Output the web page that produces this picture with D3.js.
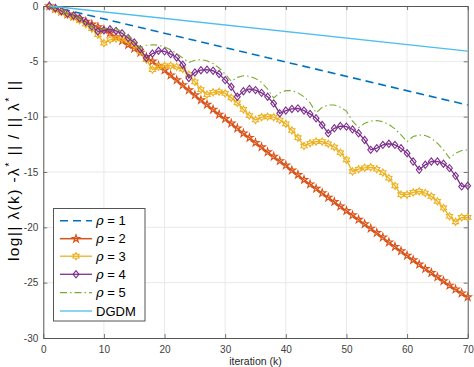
<!DOCTYPE html>
<html>
<head>
<meta charset="utf-8">
<script src="https://cdn.jsdelivr.net/npm/d3@7/dist/d3.min.js"></script>
<style>
  body { margin: 0; background: #fff; }
  svg { display: block; font-family: "Liberation Sans", Arial, sans-serif; }
</style>
</head>
<body>
<svg id="chart" width="474" height="367"></svg>
<script>
// ---------------- DATA ----------------
const iterations = d3.range(1, 71);            // k = 1 .. 70
const xTicks = [0, 10, 20, 30, 40, 50, 60, 70];
const yTicks = [0, -5, -10, -15, -20, -25, -30];

// straight lines (read at their ends)
const rho1Iter = [1, 70];
const rho1Vals = [0, -8.95];
const dgdmIter = [1, 70];
const dgdmVals = [0, -4.07];

const rho2Vals = [0,-0.25,-0.5,-0.75,-0.95,-1.15,-1.4,-1.65,-1.9,-2.15,
  -2.45,-2.8,-3.15,-3.5,-3.85,-4.2,-4.6,-5.0,-5.4,-5.8,
  -6.25,-6.7,-7.15,-7.6,-8.05,-8.5,-8.9,-9.35,-9.8,-10.2,
  -10.6,-11.05,-11.5,-11.9,-12.35,-12.75,-13.2,-13.6,-14.0,-14.4,
  -14.85,-15.25,-15.7,-16.1,-16.5,-16.9,-17.3,-17.7,-18.1,-18.5,
  -18.9,-19.3,-19.7,-20.1,-20.5,-20.9,-21.35,-21.75,-22.15,-22.55,
  -22.95,-23.35,-23.75,-24.1,-24.5,-24.85,-25.25,-25.6,-25.95,-26.3];

const rho3Vals = [0,-0.3,-0.55,-0.8,-1.0,-1.3,-1.65,-2.05,-2.6,-3.35,
  -3.05,-2.95,-2.95,-3.1,-3.5,-4.1,-4.85,-5.75,-5.5,-5.4,
  -5.4,-5.5,-5.7,-6.2,-6.85,-7.55,-8.0,-7.8,-7.75,-7.9,
  -8.3,-8.75,-9.35,-9.9,-10.3,-10.05,-10.0,-10.05,-10.3,-10.65,
  -11.25,-11.9,-12.65,-12.4,-12.25,-12.25,-12.45,-12.75,-13.25,-13.9,
  -14.95,-14.75,-14.62,-14.57,-14.75,-15.05,-15.55,-16.25,-17.05,-17.05,
  -16.85,-16.75,-16.9,-17.2,-17.65,-18.25,-19.0,-19.5,-19.1,-19.1];

const rho4Vals = [0,-0.2,-0.45,-0.7,-0.85,-1.1,-1.45,-1.85,-2.3,-2.2,
  -2.1,-2.25,-2.47,-2.9,-3.3,-3.9,-4.7,-4.3,-4.05,-4.1,
  -4.35,-4.65,-5.3,-6.5,-6.0,-5.8,-5.75,-5.85,-6.15,-6.7,
  -7.3,-8.2,-7.7,-7.5,-7.6,-7.85,-8.2,-8.8,-9.7,-9.45,
  -9.3,-9.25,-9.45,-9.75,-10.15,-10.75,-11.5,-11.05,-10.85,-10.9,
  -11.15,-11.5,-12.1,-13.0,-12.85,-12.55,-12.45,-12.55,-12.85,-13.3,
  -14.05,-14.8,-14.35,-14.05,-14.05,-14.25,-14.65,-15.35,-16.3,-16.25];

const rho5Vals = [0,-0.2,-0.45,-0.7,-0.9,-1.15,-1.5,-1.9,-2.3,-2.05,
  -1.95,-2.05,-2.3,-2.7,-3.2,-3.8,-3.55,-3.5,-3.55,-3.7,
  -3.95,-4.3,-4.7,-5.1,-4.9,-4.85,-4.95,-5.2,-5.6,-6.15,
  -6.8,-6.45,-6.3,-6.35,-6.55,-6.9,-7.5,-8.3,-7.85,-7.65,
  -7.65,-7.85,-8.2,-8.75,-9.65,-9.15,-8.95,-8.95,-9.15,-9.5,
  -10.4,-11.0,-10.6,-10.4,-10.35,-10.45,-10.7,-11.1,-11.65,-12.25,
  -11.8,-11.65,-11.7,-11.95,-12.4,-13.0,-13.75,-13.3,-13.05,-13.0];

const seriesNames = ["\u03C1 = 1", "\u03C1 = 2", "\u03C1 = 3", "\u03C1 = 4", "\u03C1 = 5", "DGDM"];

// ---------------- LAYOUT ----------------
const svg = d3.select("#chart");
const L = 43.3, R = 467.7, T = 6, B = 338;
const x = d3.scaleLinear().domain([0, 70]).range([L, R]);
const y = d3.scaleLinear().domain([-30, 0]).range([B, T]);

const colors = ["#0072BD", "#D95319", "#EDB120", "#7E2F8E", "#77AC30", "#4DBEEE"];

svg.append("rect").attr("x", 0).attr("y", 0).attr("width", 474).attr("height", 367).attr("fill", "#fff");

// grid
const grid = svg.append("g");
grid.selectAll("line.gx").data(xTicks.slice(1, -1)).join("line")
  .attr("x1", d => x(d)).attr("x2", d => x(d)).attr("y1", T).attr("y2", B)
  .attr("stroke", "#e3e3e3").attr("stroke-width", 0.8);
grid.selectAll("line.gy").data(yTicks.slice(1, -1)).join("line")
  .attr("y1", d => y(d)).attr("y2", d => y(d)).attr("x1", L).attr("x2", R)
  .attr("stroke", "#e3e3e3").attr("stroke-width", 0.8);

// axes with inward ticks
const axisColor = "#555";
const tickFont = 10;
const xAxisB = svg.append("g").attr("transform", `translate(0,${B})`)
  .call(d3.axisBottom(x).tickValues(xTicks).tickSizeInner(-4).tickSizeOuter(0).tickPadding(8));
const xAxisT = svg.append("g").attr("transform", `translate(0,${T})`)
  .call(d3.axisTop(x).tickValues(xTicks).tickSizeInner(-4).tickSizeOuter(0).tickFormat(""));
const yAxisL = svg.append("g").attr("transform", `translate(${L},0)`)
  .call(d3.axisLeft(y).tickValues(yTicks).tickSizeInner(-4).tickSizeOuter(0).tickPadding(5)
    .tickFormat(d => d === 0 ? "0" : "-" + Math.abs(d)));
const yAxisR = svg.append("g").attr("transform", `translate(${R},0)`)
  .call(d3.axisRight(y).tickValues(yTicks).tickSizeInner(-4).tickSizeOuter(0).tickFormat(""));
[xAxisB, xAxisT, yAxisL, yAxisR].forEach(g => {
  g.select(".domain").attr("stroke", axisColor).attr("stroke-width", 1);
  g.selectAll(".tick line").attr("stroke", axisColor).attr("stroke-width", 0.8);
  g.selectAll(".tick text").attr("fill", "#404040").attr("font-size", tickFont)
    .attr("font-family", "Liberation Sans, Arial, sans-serif");
});

// clip
svg.append("clipPath").attr("id", "clip").append("rect")
  .attr("x", L - 5).attr("y", T - 5).attr("width", R - L + 10).attr("height", B - T + 10);
const plot = svg.append("g").attr("clip-path", "url(#clip)");

// marker shapes
function starPath(n, Ro, ratio) {
  const pts = [];
  for (let i = 0; i < 2 * n; i++) {
    const r = i % 2 === 0 ? Ro : Ro * ratio;
    const a = -Math.PI / 2 + i * Math.PI / n;
    pts.push([r * Math.cos(a), r * Math.sin(a)]);
  }
  return "M" + pts.map(p => p[0].toFixed(2) + "," + p[1].toFixed(2)).join("L") + "Z";
}
const pentagram = starPath(5, 4.0, 0.382);
const hexagram = starPath(6, 3.6, 0.577);
const diamond = "M0,-3.6L2.9,0L0,3.6L-2.9,0Z";

const line = d3.line().x(d => x(d[0])).y(d => y(d[1]));
const zip = (a, b) => a.map((v, i) => [v, b[i]]);

const series = [
  { data: zip(rho1Iter, rho1Vals), color: colors[0], width: 1.6, dash: "8,5", marker: null },
  { data: zip(iterations, rho2Vals), color: colors[1], width: 1.5, dash: null, marker: pentagram },
  { data: zip(iterations, rho3Vals), color: colors[2], width: 1.3, dash: null, marker: hexagram },
  { data: zip(iterations, rho4Vals), color: colors[3], width: 1.3, dash: null, marker: diamond },
  { data: zip(iterations, rho5Vals), color: colors[4], width: 1.1, dash: "7,3,1.5,3", marker: null },
  { data: zip(dgdmIter, dgdmVals), color: colors[5], width: 1.3, dash: null, marker: null }
];

series.forEach(s => {
  const g = plot.append("g");
  g.append("path").datum(s.data).attr("d", line)
    .attr("fill", "none").attr("stroke", s.color).attr("stroke-width", s.width)
    .attr("stroke-dasharray", s.dash);
  if (s.marker) {
    g.selectAll("path.m").data(s.data).join("path").attr("class", "m")
      .attr("d", s.marker)
      .attr("transform", d => `translate(${x(d[0])},${y(d[1])})`)
      .attr("fill", "none").attr("stroke", s.color).attr("stroke-width", 1.1);
  }
});

// axis labels
svg.append("text").attr("x", (L + R) / 2).attr("y", 364.5).attr("text-anchor", "middle")
  .attr("font-size", 10.5).attr("fill", "#262626").text("iteration (k)");

const yl = svg.append("text").attr("transform", "translate(18.5,171) rotate(-90)")
  .attr("text-anchor", "middle").attr("font-size", 15.5).attr("fill", "#000")
  .attr("textLength", 180).attr("lengthAdjust", "spacing");
yl.append("tspan").text("log|| \u03BB(k) -\u03BB");
yl.append("tspan").attr("dy", -6).attr("font-size", 11).text("*");
yl.append("tspan").attr("dy", 6).text(" || / || \u03BB");
yl.append("tspan").attr("dy", -6).attr("font-size", 11).text("*");
yl.append("tspan").attr("dy", 6).text(" ||");

// legend
const lg = svg.append("g");
const lx = 53.5, ly = 208.5, lw = 91.5, lh = 112.5;
lg.append("rect").attr("x", lx).attr("y", ly).attr("width", lw).attr("height", lh)
  .attr("fill", "#fff").attr("stroke", "#555").attr("stroke-width", 1);
const rowY = [220.7, 238.7, 256.2, 274.3, 292.6, 311];
series.forEach((s, i) => {
  const yy = rowY[i];
  lg.append("line").attr("x1", 60).attr("x2", 92).attr("y1", yy).attr("y2", yy)
    .attr("stroke", s.color).attr("stroke-width", s.width).attr("stroke-dasharray", s.dash);
  if (s.marker) {
    lg.append("path").attr("d", s.marker).attr("transform", `translate(76,${yy})`)
      .attr("fill", "none").attr("stroke", s.color).attr("stroke-width", 1.1);
  }
  const t = lg.append("text").attr("x", 96).attr("y", yy + 4.5).attr("font-size", 13).attr("fill", "#000");
  if (i < 5) {
    t.append("tspan").attr("font-style", "italic").attr("font-family", "DejaVu Serif, serif").text("\u03C1");
    t.append("tspan").text(" = " + (i + 1));
  } else {
    t.text(seriesNames[i]);
  }
});
</script>
</body>
</html>
